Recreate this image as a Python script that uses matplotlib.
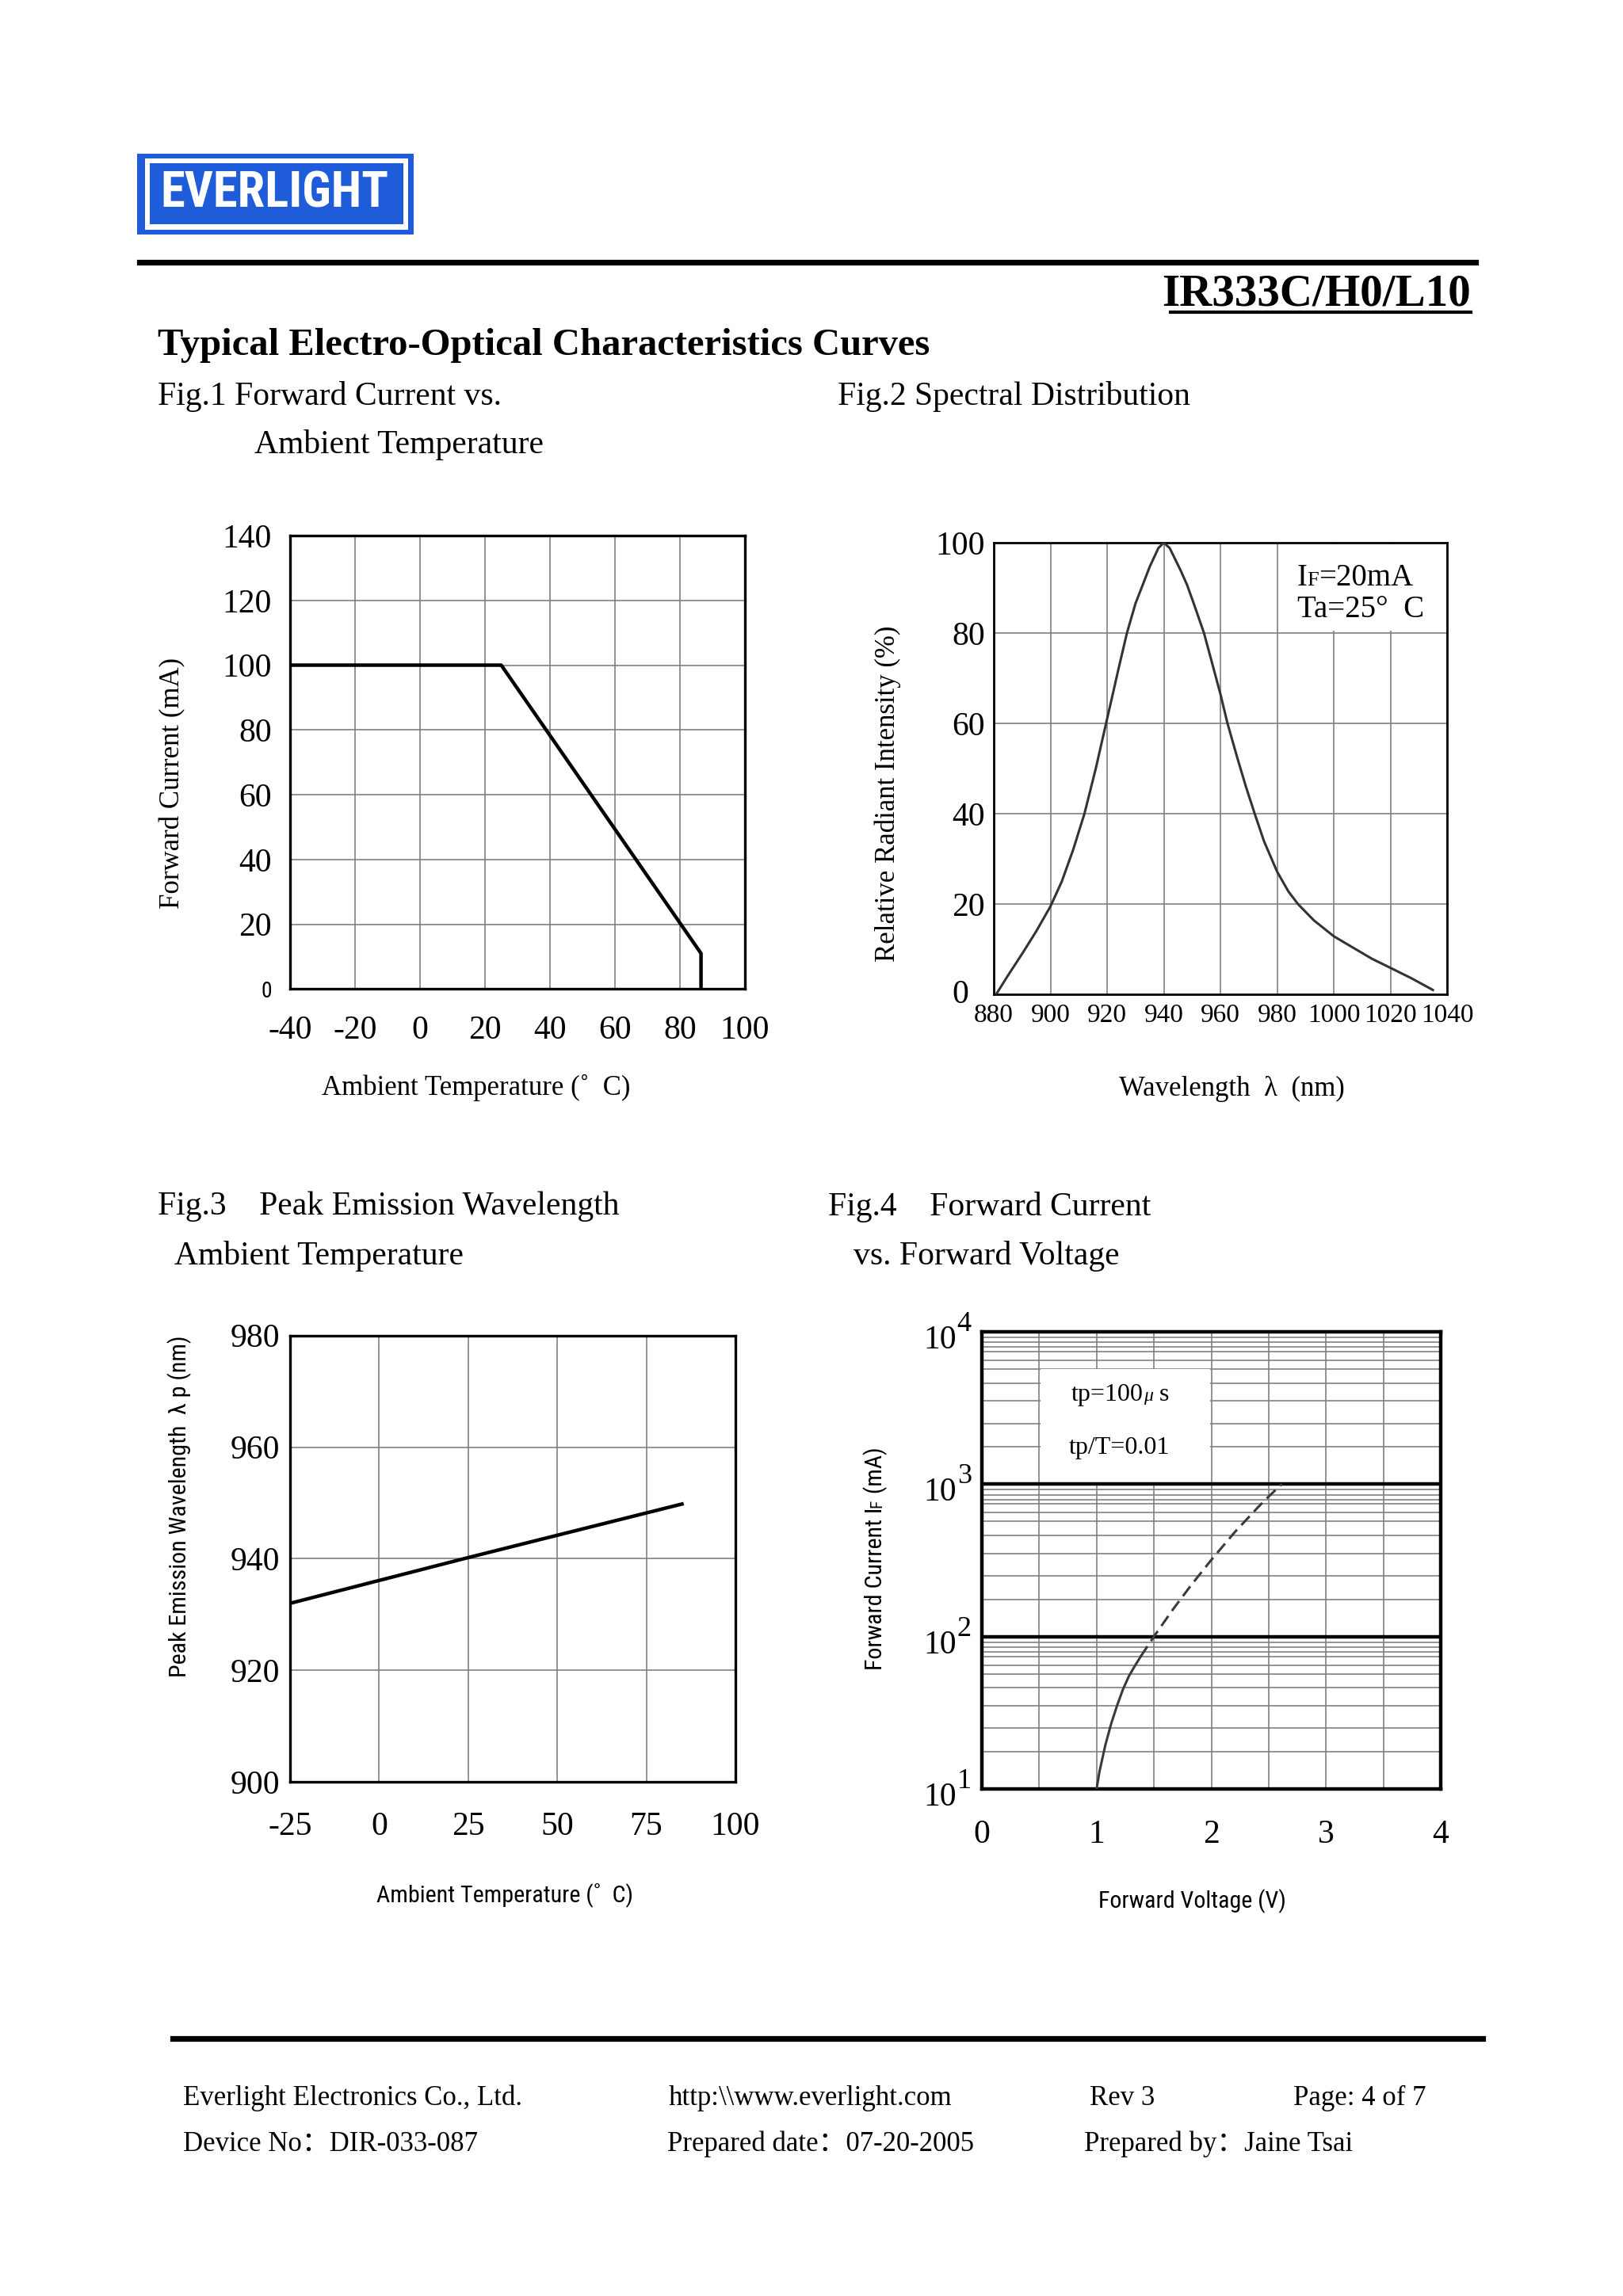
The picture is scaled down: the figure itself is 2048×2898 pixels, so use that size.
import matplotlib
matplotlib.use('Agg')
import matplotlib.pyplot as plt
import matplotlib.transforms as mtransforms
from matplotlib import font_manager as fm
from matplotlib.patches import Rectangle
from matplotlib.lines import Line2D
from matplotlib.ticker import FixedLocator, NullFormatter

W, H, DPI = 2048, 2898, 200

# ---------------- data ----------------
# Fig.1 forward current vs ambient temperature
fig1_temp = [-40, 25, 86.5, 86.5]
fig1_current = [100, 100, 11, 0]
fig1_xticks = [-40, -20, 0, 20, 40, 60, 80, 100]
fig1_yticks = [0, 20, 40, 60, 80, 100, 120, 140]

# Fig.2 spectral distribution
fig2_wavelength = [880.8, 885, 890, 895, 900, 904, 908, 912, 916, 920, 922.3,
                   924, 927, 930, 932.6, 935, 936.4, 938.1, 940, 942.1, 943.9,
                   946, 948.2, 951, 954.2, 957, 960, 962.5, 966, 969, 972,
                   975.4, 980, 984, 987.4, 993, 1000, 1007, 1013.5, 1020,
                   1027.4, 1035]
fig2_intensity = [0, 4.2, 9, 14, 19.5, 25, 32, 40, 50, 61, 67.3,
                  72, 80, 86.5, 90.7, 94.6, 96.5, 98.8, 100, 98.8, 96.5,
                  93.8, 90.7, 85.8, 80, 73.5, 66.5, 60, 52.3, 46, 40.2,
                  33.9, 27.2, 22.8, 20, 16.4, 12.9, 10.3, 7.9, 5.9,
                  3.6, 1.0]
fig2_xticks = [880, 900, 920, 940, 960, 980, 1000, 1020, 1040]
fig2_yticks = [0, 20, 40, 60, 80, 100]

# Fig.3 peak emission wavelength vs ambient temperature
fig3_temp = [-25, 0, 25, 50, 75, 85]
fig3_peak = [932, 936.1, 940.2, 944.2, 948.2, 949.8]
fig3_xticks = [-25, 0, 25, 50, 75, 100]
fig3_yticks = [900, 920, 940, 960, 980]

# Fig.4 forward current vs forward voltage
fig4_v_solid = [1.0, 1.026, 1.077, 1.128, 1.18, 1.23, 1.282, 1.333, 1.385]
fig4_i_solid = [10, 13.1, 19.5, 26.9, 35.5, 45, 55, 64, 74]
fig4_v_dash = [1.385, 1.5, 1.667, 1.82, 2.0, 2.205, 2.41, 2.5, 2.615]
fig4_i_dash = [74, 100, 151, 215, 318, 484, 708, 828, 1000]
fig4_xticks = [0, 1, 2, 3, 4]
fig4_xminor = [0.5, 1.5, 2.5, 3.5]
fig4_exponents = [1, 2, 3, 4]
fig4_minor = [1.75, 2.5, 3.5, 4.6, 5.7, 6.5, 7.4, 7.9, 8.5, 9.2]

# ---------------- fonts ----------------
installed = {f.name for f in fm.fontManager.ttflist}
SERIF = ['Liberation Serif', 'DejaVu Serif', 'Noto Sans CJK SC']
NARROW, nscale, logo_size = ['Liberation Sans', 'DejaVu Sans'], 0.84, 18.5
for name, sc, ls in [('Liberation Sans Narrow', 1.0, 22), ('Roboto Condensed', 0.9, 22.5)]:
    if name in installed:
        NARROW, nscale, logo_size = [name, 'DejaVu Sans'], sc, ls
        break

plt.rcParams['font.family'] = SERIF
plt.rcParams['axes.unicode_minus'] = False

fig = plt.figure(figsize=(W / DPI, H / DPI), dpi=DPI)
fig.patch.set_facecolor('white')
renderer = fig.canvas.get_renderer()


def cy(y):
    # small corrections measured against the reference page
    return y - 0.0082 * max(0, y - 560)


def cx(x, k=1.0):
    return x - k * min(0.011 * max(0, x - 200), 10)


def fx(x, k=1.0):
    return cx(x, k) / W


def fy(y):
    return 1 - cy(y) / H


def rect(left, top, right, bottom):
    return [fx(left, 0.5), fy(bottom), (cx(right, 0.5) - cx(left, 0.5)) / W,
            (cy(bottom) - cy(top)) / H]


def shifted(base, dx, dy):
    return base + mtransforms.Affine2D().translate(dx, dy)


def chain(parts, x, y, base, rotation=0, align='left'):
    # several text pieces set one after the other
    texts, lens = [], []
    for s, kw in parts:
        t = fig.text(x, y, s, transform=base, ha='left', va='baseline',
                     rotation=rotation, rotation_mode='anchor', **kw)
        bb = t.get_window_extent(renderer)
        texts.append(t)
        lens.append(bb.width if rotation == 0 else bb.height)
    off = -sum(lens) / 2 if align == 'center' else 0.0
    for t, l in zip(texts, lens):
        t.set_transform(shifted(base, off, 0) if rotation == 0 else shifted(base, 0, off))
        off += l


def style_axes(ax, spine_lw):
    ax.set_axisbelow(True)
    ax.grid(True, color='#808080', linewidth=0.6)
    ax.tick_params(length=0)
    for sp in ax.spines.values():
        sp.set_linewidth(spine_lw)
        sp.set_color('black')


# ---------------- header ----------------
blue = '#1f5cd9'
for (l, t, r, b), c in [((173, 194, 526, 296), blue),
                        ((183, 200, 519, 290), 'white'),
                        ((189, 206, 512, 283), blue)]:
    fig.add_artist(Rectangle((fx(l), fy(b)), (cx(r) - cx(l)) / W, (b - t) / H,
                             transform=fig.transFigure, facecolor=c, edgecolor='none'))
fig.text(fx(348), fy(244), 'EVERLIGHT', color='white', fontsize=logo_size,
         fontweight='bold', family=NARROW, ha='center', va='center')

fig.add_artist(Line2D([fx(176), fx(1872)], [fy(331), fy(331)], color='black',
                      linewidth=2.6, transform=fig.transFigure))
fig.text(1856 / W, fy(372), 'IR333C/H0/L10', fontsize=20.5, fontweight='bold',
         ha='right', va='center')
fig.add_artist(Line2D([1477 / W, 1856 / W], [fy(394), fy(394)], color='black',
                      linewidth=1.5, transform=fig.transFigure))

fig.text(fx(199), fy(436), 'Typical Electro-Optical Characteristics Curves',
         fontsize=17.5, fontweight='bold', va='center')
fig.text(fx(199), fy(501), 'Fig.1 Forward Current vs.', fontsize=15, va='center')
fig.text(fx(322), fy(562), 'Ambient Temperature', fontsize=15, va='center')
fig.text(fx(1067), fy(501), 'Fig.2 Spectral Distribution', fontsize=15, va='center')
fig.text(fx(199), fy(1531), 'Fig.3    Peak Emission Wavelength', fontsize=15, va='center')
fig.text(fx(220), fy(1594), 'Ambient Temperature', fontsize=15, va='center')
fig.text(fx(1054), fy(1531), 'Fig.4    Forward Current', fontsize=15, va='center')
fig.text(fx(1087), fy(1594), 'vs. Forward Voltage', fontsize=15, va='center')

# ---------------- Fig.1 ----------------
ax1 = fig.add_axes(rect(367, 677, 944, 1254))
ax1.plot(fig1_temp, fig1_current, color='black', linewidth=1.6, zorder=3)
ax1.set_xlim(-40, 100)
ax1.set_ylim(0, 140)
ax1.set_xticks(fig1_xticks)
ax1.set_yticks(fig1_yticks)
style_axes(ax1, 1.2)
ax1.tick_params(axis='x', pad=12, labelsize=15)
ax1.tick_params(axis='y', pad=8.3, labelsize=15)
lab0 = ax1.get_yticklabels()[0]
lab0.set_fontsize(11 * nscale)
lab0.set_fontfamily(NARROW)
fig.text(fx(218), fy(992), 'Forward Current (mA)', fontsize=12.5, rotation=90,
         ha='center', va='center')
fig.text(fx(605), fy(1380), 'Ambient Temperature (˚  C)', fontsize=12.5,
         ha='center', va='center')

# ---------------- Fig.2 ----------------
ax2 = fig.add_axes(rect(1259, 686, 1831, 1261))
ax2.plot(fig2_wavelength, fig2_intensity, color='#333333', linewidth=1.1, zorder=3)
ax2.set_xlim(880, 1040)
ax2.set_ylim(0, 100)
ax2.set_xticks(fig2_xticks)
ax2.set_yticks(fig2_yticks)
style_axes(ax2, 1.0)
ax2.add_patch(Rectangle((981, 80.5), 58.6, 19.2, facecolor='white',
                        edgecolor='none', zorder=1))
ax2.tick_params(axis='x', pad=4, labelsize=12)
ax2.tick_params(axis='y', pad=4, labelsize=15)
# the "0" of the y axis sits further left, clear of "880"
ax2.get_yticklabels()[0].set_visible(False)
ax2.text(fig2_xticks[0], fig2_yticks[0], str(fig2_yticks[0]), fontsize=15,
         ha='right', va='center', transform=shifted(ax2.transData, -32, 0))
chain([('I', dict(fontsize=14)), ('F', dict(fontsize=9.5)),
       ('=20mA', dict(fontsize=14))],
      987, 93, shifted(ax2.transData, 0, -14))
ax2.text(987, 86, 'Ta=25°  C', fontsize=14, ha='left', va='baseline',
         transform=shifted(ax2.transData, 0, -14))
fig.text(fx(1130), fy(1005), 'Relative Radiant Intensity (%)', fontsize=12.5,
         rotation=90, ha='center', va='center')
fig.text(fx(1564), fy(1381), 'Wavelength  λ  (nm)', fontsize=12.5,
         ha='center', va='center')

# ---------------- Fig.3 ----------------
ax3 = fig.add_axes(rect(367, 1695, 932, 2263))
ax3.plot(fig3_temp, fig3_peak, color='black', linewidth=1.6, zorder=3)
ax3.set_xlim(-25, 100)
ax3.set_ylim(900, 980)
ax3.set_xticks(fig3_xticks)
ax3.set_yticks(fig3_yticks)
style_axes(ax3, 1.2)
ax3.tick_params(axis='x', pad=13.5, labelsize=15)
ax3.tick_params(axis='y', pad=4.7, labelsize=15)
fig.text(fx(227), fy(1912), 'Peak Emission Wavelength  λ p (nm)',
         fontsize=12 * nscale, family=NARROW, rotation=90, ha='center', va='center')
fig.text(fx(642), fy(2408), 'Ambient Temperature (˚  C)', fontsize=12 * nscale,
         family=NARROW, ha='center', va='center')

# ---------------- Fig.4 ----------------
ax4 = fig.add_axes(rect(1244, 1690, 1823, 2272))
ax4.set_yscale('log')
ax4.set_xlim(0, 4)
ax4.set_ylim(10, 10 ** 4)
ax4.xaxis.set_major_locator(FixedLocator(fig4_xticks))
ax4.xaxis.set_minor_locator(FixedLocator(fig4_xminor))
decades = [10 ** e for e in fig4_exponents]
ax4.yaxis.set_major_locator(FixedLocator(decades))
ax4.yaxis.set_minor_locator(FixedLocator(
    [m * 10 ** e for e in fig4_exponents[:-1] for m in fig4_minor]))
ax4.yaxis.set_major_formatter(NullFormatter())
ax4.yaxis.set_minor_formatter(NullFormatter())
ax4.set_xticklabels([str(v) for v in fig4_xticks])
style_axes(ax4, 1.6)
ax4.grid(True, which='both', color='#808080', linewidth=0.6)
ax4.tick_params(which='both', length=0)
ax4.tick_params(axis='x', pad=13.8, labelsize=15)
ax4.add_patch(Rectangle((0.51, 1000), 1.48, 4650, facecolor='white',
                        edgecolor='none', zorder=1))
for d in decades[1:3]:
    ax4.axhline(d, color='black', linewidth=1.6, zorder=3)
ax4.plot(fig4_v_solid, fig4_i_solid, color='#3a3a3a', linewidth=1.1, zorder=4)
ax4.plot(fig4_v_dash, fig4_i_dash, color='#3a3a3a', linewidth=1.1, zorder=4,
         linestyle=(0, (5, 2.6)))
blend = mtransforms.blended_transform_factory(ax4.transAxes, ax4.transData)
for e, d in zip(fig4_exponents, decades):
    ax4.text(-0.056, d, '10', fontsize=15, ha='right', va='center',
             transform=shifted(blend, 0, -11))
    ax4.text(-0.054, d, str(e), fontsize=13, ha='left', va='baseline',
             transform=shifted(blend, 0, 1))
chain([('tp=100', dict(fontsize=11.5)), ('μ', dict(fontsize=8.5, style='italic')),
       (' s', dict(fontsize=11.5))],
      fx(1362), fy(1778), fig.transFigure)
fig.text(fx(1359), fy(1846), 'tp/T=0.01', fontsize=11.5, ha='left', va='baseline')
em4 = 12 * nscale * DPI / 72
chain([('Forward Current I', dict(fontsize=12 * nscale, family=NARROW)),
       ('F', dict(fontsize=8.5 * nscale, family=NARROW)),
       (' (mA)', dict(fontsize=12 * nscale, family=NARROW))],
      fx(1112 + 0.36 * em4), fy(1979), fig.transFigure, rotation=90, align='center')
fig.text(fx(1514), fy(2415), 'Forward Voltage (V)', fontsize=12 * nscale,
         family=NARROW, ha='center', va='center')

# ---------------- footer ----------------
fig.add_artist(Line2D([fx(218), fx(1881)], [fy(2590), fy(2590)], color='black',
                      linewidth=2.6, transform=fig.transFigure))
footer = [
    (231, 2666, 'Everlight Electronics Co., Ltd.'),
    (851, 2666, 'http:\\\\www.everlight.com'),
    (1385, 2666, 'Rev 3'),
    (1642, 2666, 'Page: 4 of 7'),
    (231, 2724, 'Device No：DIR-033-087'),
    (849, 2724, 'Prepared date：07-20-2005'),
    (1378, 2724, 'Prepared by：Jaine Tsai'),
]
for x, y, s in footer:
    fig.text(fx(x), fy(y), s, fontsize=12.5, ha='left', va='center')

fig.savefig('out.png', dpi=DPI, facecolor='white')
